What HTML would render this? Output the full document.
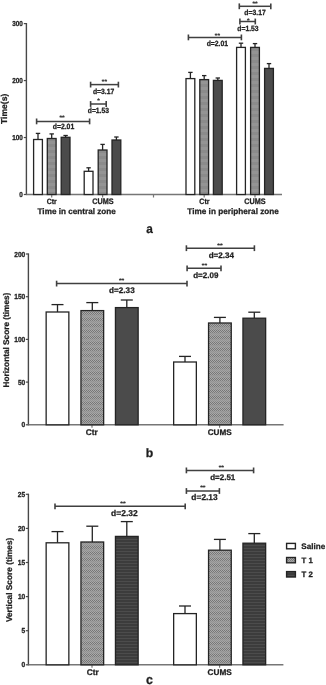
<!DOCTYPE html>
<html><head><meta charset="utf-8"><title>Figure</title>
<style>
html,body{margin:0;padding:0;background:#fff;}
body{width:326px;height:685px;overflow:hidden;}
svg{display:block;}
text{font-family:'Liberation Sans', Arial, sans-serif;text-rendering:geometricPrecision;stroke:#1e1e1e;stroke-width:2.6px;}
</style></head><body>
<svg width="326" height="685" viewBox="0 0 326 685">
<defs>
<pattern id="ga" width="4" height="6" patternUnits="userSpaceOnUse">
<rect width="4" height="6" fill="#8b8b8b"/><rect y="3" width="4" height="3" fill="#949494"/></pattern>
<pattern id="tex" width="2" height="6" patternUnits="userSpaceOnUse">
<rect x="0" y="0" width="1" height="1" fill="#767676"/><rect x="1" y="0" width="1" height="1" fill="#aaaaaa"/>
<rect x="0" y="1" width="1" height="1" fill="#aaaaaa"/><rect x="1" y="1" width="1" height="1" fill="#767676"/>
<rect x="0" y="2" width="1" height="1" fill="#7c7c7c"/><rect x="1" y="2" width="1" height="1" fill="#a6a6a6"/>
<rect x="0" y="3" width="1" height="1" fill="#a2a2a2"/><rect x="1" y="3" width="1" height="1" fill="#909090"/>
<rect x="0" y="4" width="1" height="1" fill="#949494"/><rect x="1" y="4" width="1" height="1" fill="#a4a4a4"/>
<rect x="0" y="5" width="1" height="1" fill="#a8a8a8"/><rect x="1" y="5" width="1" height="1" fill="#888888"/>
</pattern>
<pattern id="dk" width="4" height="3" patternUnits="userSpaceOnUse">
<rect width="4" height="3" fill="#3c3c3c"/><rect y="2" width="4" height="1" fill="#4c4c4c"/></pattern>
</defs>
<rect width="326" height="685" fill="#fff"/>
<line x1="26.40" y1="22.99" x2="26.40" y2="195.10" stroke="#484848" stroke-width="1.4"/>
<line x1="23.80" y1="194.50" x2="26.40" y2="194.50" stroke="#484848" stroke-width="1.2"/>
<line x1="23.80" y1="137.53" x2="26.40" y2="137.53" stroke="#484848" stroke-width="1.2"/>
<line x1="23.80" y1="80.56" x2="26.40" y2="80.56" stroke="#484848" stroke-width="1.2"/>
<line x1="23.80" y1="23.59" x2="26.40" y2="23.59" stroke="#484848" stroke-width="1.2"/>
<line x1="26.40" y1="194.50" x2="282.00" y2="194.50" stroke="#767676" stroke-width="1.4"/>
<line x1="51.70" y1="194.50" x2="51.70" y2="197.50" stroke="#767676" stroke-width="1.2"/>
<line x1="102.60" y1="194.50" x2="102.60" y2="197.50" stroke="#767676" stroke-width="1.2"/>
<line x1="153.50" y1="194.50" x2="153.50" y2="197.50" stroke="#767676" stroke-width="1.2"/>
<line x1="204.20" y1="194.50" x2="204.20" y2="197.50" stroke="#767676" stroke-width="1.2"/>
<line x1="255.00" y1="194.50" x2="255.00" y2="197.50" stroke="#767676" stroke-width="1.2"/>
<line x1="38.00" y1="139.50" x2="38.00" y2="133.40" stroke="#242424" stroke-width="1.3"/>
<line x1="35.80" y1="133.40" x2="40.20" y2="133.40" stroke="#242424" stroke-width="1.3"/>
<rect x="33.60" y="139.50" width="8.80" height="55.00" fill="#ffffff" stroke="#242424" stroke-width="1.3"/>
<line x1="51.70" y1="138.50" x2="51.70" y2="133.90" stroke="#242424" stroke-width="1.3"/>
<line x1="49.50" y1="133.90" x2="53.90" y2="133.90" stroke="#242424" stroke-width="1.3"/>
<rect x="47.30" y="138.50" width="8.80" height="56.00" fill="url(#ga)" stroke="#242424" stroke-width="1.3"/>
<line x1="65.60" y1="137.30" x2="65.60" y2="135.50" stroke="#242424" stroke-width="1.3"/>
<line x1="63.40" y1="135.50" x2="67.80" y2="135.50" stroke="#242424" stroke-width="1.3"/>
<rect x="61.20" y="137.30" width="8.80" height="57.20" fill="#4b4b4b" stroke="#242424" stroke-width="1.3"/>
<line x1="88.60" y1="171.30" x2="88.60" y2="167.80" stroke="#242424" stroke-width="1.3"/>
<line x1="86.40" y1="167.80" x2="90.80" y2="167.80" stroke="#242424" stroke-width="1.3"/>
<rect x="84.20" y="171.30" width="8.80" height="23.20" fill="#ffffff" stroke="#242424" stroke-width="1.3"/>
<line x1="102.60" y1="150.00" x2="102.60" y2="144.40" stroke="#242424" stroke-width="1.3"/>
<line x1="100.40" y1="144.40" x2="104.80" y2="144.40" stroke="#242424" stroke-width="1.3"/>
<rect x="98.20" y="150.00" width="8.80" height="44.50" fill="url(#ga)" stroke="#242424" stroke-width="1.3"/>
<line x1="116.40" y1="140.00" x2="116.40" y2="137.00" stroke="#242424" stroke-width="1.3"/>
<line x1="114.20" y1="137.00" x2="118.60" y2="137.00" stroke="#242424" stroke-width="1.3"/>
<rect x="112.00" y="140.00" width="8.80" height="54.50" fill="#4b4b4b" stroke="#242424" stroke-width="1.3"/>
<line x1="190.40" y1="78.60" x2="190.40" y2="72.40" stroke="#242424" stroke-width="1.3"/>
<line x1="188.20" y1="72.40" x2="192.60" y2="72.40" stroke="#242424" stroke-width="1.3"/>
<rect x="186.00" y="78.60" width="8.80" height="115.90" fill="#ffffff" stroke="#242424" stroke-width="1.3"/>
<line x1="204.20" y1="79.60" x2="204.20" y2="75.60" stroke="#242424" stroke-width="1.3"/>
<line x1="202.00" y1="75.60" x2="206.40" y2="75.60" stroke="#242424" stroke-width="1.3"/>
<rect x="199.80" y="79.60" width="8.80" height="114.90" fill="url(#ga)" stroke="#242424" stroke-width="1.3"/>
<line x1="217.80" y1="80.40" x2="217.80" y2="78.00" stroke="#242424" stroke-width="1.3"/>
<line x1="215.60" y1="78.00" x2="220.00" y2="78.00" stroke="#242424" stroke-width="1.3"/>
<rect x="213.40" y="80.40" width="8.80" height="114.10" fill="#4b4b4b" stroke="#242424" stroke-width="1.3"/>
<line x1="241.00" y1="47.40" x2="241.00" y2="43.20" stroke="#242424" stroke-width="1.3"/>
<line x1="238.80" y1="43.20" x2="243.20" y2="43.20" stroke="#242424" stroke-width="1.3"/>
<rect x="236.60" y="47.40" width="8.80" height="147.10" fill="#ffffff" stroke="#242424" stroke-width="1.3"/>
<line x1="255.00" y1="47.40" x2="255.00" y2="43.60" stroke="#242424" stroke-width="1.3"/>
<line x1="252.80" y1="43.60" x2="257.20" y2="43.60" stroke="#242424" stroke-width="1.3"/>
<rect x="250.60" y="47.40" width="8.80" height="147.10" fill="url(#ga)" stroke="#242424" stroke-width="1.3"/>
<line x1="269.00" y1="68.40" x2="269.00" y2="63.60" stroke="#242424" stroke-width="1.3"/>
<line x1="266.80" y1="63.60" x2="271.20" y2="63.60" stroke="#242424" stroke-width="1.3"/>
<rect x="264.60" y="68.40" width="8.80" height="126.10" fill="#4b4b4b" stroke="#242424" stroke-width="1.3"/>
<line x1="36.60" y1="121.40" x2="89.60" y2="121.40" stroke="#404040" stroke-width="1.5"/>
<line x1="36.60" y1="118.50" x2="36.60" y2="124.30" stroke="#404040" stroke-width="1.6"/>
<line x1="89.60" y1="118.50" x2="89.60" y2="124.30" stroke="#404040" stroke-width="1.6"/>
<line x1="90.60" y1="84.60" x2="118.40" y2="84.60" stroke="#404040" stroke-width="1.5"/>
<line x1="90.60" y1="81.70" x2="90.60" y2="87.50" stroke="#404040" stroke-width="1.6"/>
<line x1="118.40" y1="81.70" x2="118.40" y2="87.50" stroke="#404040" stroke-width="1.6"/>
<line x1="90.60" y1="104.00" x2="106.20" y2="104.00" stroke="#404040" stroke-width="1.5"/>
<line x1="90.60" y1="101.10" x2="90.60" y2="106.90" stroke="#404040" stroke-width="1.6"/>
<line x1="106.20" y1="101.10" x2="106.20" y2="106.90" stroke="#404040" stroke-width="1.6"/>
<line x1="188.40" y1="37.40" x2="241.40" y2="37.40" stroke="#404040" stroke-width="1.5"/>
<line x1="188.40" y1="34.50" x2="188.40" y2="40.30" stroke="#404040" stroke-width="1.6"/>
<line x1="241.40" y1="34.50" x2="241.40" y2="40.30" stroke="#404040" stroke-width="1.6"/>
<line x1="239.30" y1="6.30" x2="270.80" y2="6.30" stroke="#404040" stroke-width="1.5"/>
<line x1="239.30" y1="3.40" x2="239.30" y2="9.20" stroke="#404040" stroke-width="1.6"/>
<line x1="270.80" y1="3.40" x2="270.80" y2="9.20" stroke="#404040" stroke-width="1.6"/>
<line x1="239.90" y1="21.50" x2="255.30" y2="21.50" stroke="#404040" stroke-width="1.5"/>
<line x1="239.90" y1="18.60" x2="239.90" y2="24.40" stroke="#404040" stroke-width="1.6"/>
<line x1="255.30" y1="18.60" x2="255.30" y2="24.40" stroke="#404040" stroke-width="1.6"/>
<line x1="28.40" y1="253.40" x2="28.40" y2="425.40" stroke="#484848" stroke-width="1.4"/>
<line x1="25.80" y1="424.80" x2="28.40" y2="424.80" stroke="#484848" stroke-width="1.2"/>
<line x1="25.80" y1="382.10" x2="28.40" y2="382.10" stroke="#484848" stroke-width="1.2"/>
<line x1="25.80" y1="339.40" x2="28.40" y2="339.40" stroke="#484848" stroke-width="1.2"/>
<line x1="25.80" y1="296.70" x2="28.40" y2="296.70" stroke="#484848" stroke-width="1.2"/>
<line x1="25.80" y1="254.00" x2="28.40" y2="254.00" stroke="#484848" stroke-width="1.2"/>
<line x1="28.40" y1="424.80" x2="283.60" y2="424.80" stroke="#767676" stroke-width="1.4"/>
<line x1="92.00" y1="424.80" x2="92.00" y2="427.80" stroke="#767676" stroke-width="1.2"/>
<line x1="219.60" y1="424.80" x2="219.60" y2="427.80" stroke="#767676" stroke-width="1.2"/>
<line x1="57.50" y1="312.00" x2="57.50" y2="304.60" stroke="#242424" stroke-width="1.3"/>
<line x1="51.50" y1="304.60" x2="63.50" y2="304.60" stroke="#242424" stroke-width="1.3"/>
<rect x="46.15" y="312.00" width="22.70" height="112.80" fill="#ffffff" stroke="#242424" stroke-width="1.3"/>
<line x1="92.30" y1="310.60" x2="92.30" y2="302.60" stroke="#242424" stroke-width="1.3"/>
<line x1="86.30" y1="302.60" x2="98.30" y2="302.60" stroke="#242424" stroke-width="1.3"/>
<rect x="80.95" y="310.60" width="22.70" height="114.20" fill="url(#tex)" stroke="#242424" stroke-width="1.3"/>
<line x1="126.80" y1="307.60" x2="126.80" y2="300.00" stroke="#242424" stroke-width="1.3"/>
<line x1="120.80" y1="300.00" x2="132.80" y2="300.00" stroke="#242424" stroke-width="1.3"/>
<rect x="115.45" y="307.60" width="22.70" height="117.20" fill="#4b4b4b" stroke="#242424" stroke-width="1.3"/>
<line x1="185.00" y1="362.00" x2="185.00" y2="356.40" stroke="#242424" stroke-width="1.3"/>
<line x1="179.00" y1="356.40" x2="191.00" y2="356.40" stroke="#242424" stroke-width="1.3"/>
<rect x="173.65" y="362.00" width="22.70" height="62.80" fill="#ffffff" stroke="#242424" stroke-width="1.3"/>
<line x1="219.90" y1="323.00" x2="219.90" y2="317.40" stroke="#242424" stroke-width="1.3"/>
<line x1="213.90" y1="317.40" x2="225.90" y2="317.40" stroke="#242424" stroke-width="1.3"/>
<rect x="208.55" y="323.00" width="22.70" height="101.80" fill="url(#tex)" stroke="#242424" stroke-width="1.3"/>
<line x1="254.30" y1="318.20" x2="254.30" y2="312.20" stroke="#242424" stroke-width="1.3"/>
<line x1="248.30" y1="312.20" x2="260.30" y2="312.20" stroke="#242424" stroke-width="1.3"/>
<rect x="242.95" y="318.20" width="22.70" height="106.60" fill="#4b4b4b" stroke="#242424" stroke-width="1.3"/>
<line x1="56.60" y1="283.60" x2="187.00" y2="283.60" stroke="#404040" stroke-width="1.5"/>
<line x1="56.60" y1="280.70" x2="56.60" y2="286.50" stroke="#404040" stroke-width="1.6"/>
<line x1="187.00" y1="280.70" x2="187.00" y2="286.50" stroke="#404040" stroke-width="1.6"/>
<line x1="186.40" y1="248.20" x2="254.40" y2="248.20" stroke="#404040" stroke-width="1.5"/>
<line x1="186.40" y1="245.30" x2="186.40" y2="251.10" stroke="#404040" stroke-width="1.6"/>
<line x1="254.40" y1="245.30" x2="254.40" y2="251.10" stroke="#404040" stroke-width="1.6"/>
<line x1="187.10" y1="268.30" x2="221.00" y2="268.30" stroke="#404040" stroke-width="1.5"/>
<line x1="187.10" y1="265.40" x2="187.10" y2="271.20" stroke="#404040" stroke-width="1.6"/>
<line x1="221.00" y1="265.40" x2="221.00" y2="271.20" stroke="#404040" stroke-width="1.6"/>
<line x1="28.40" y1="493.70" x2="28.40" y2="665.40" stroke="#484848" stroke-width="1.4"/>
<line x1="25.80" y1="664.80" x2="28.40" y2="664.80" stroke="#484848" stroke-width="1.2"/>
<line x1="25.80" y1="630.70" x2="28.40" y2="630.70" stroke="#484848" stroke-width="1.2"/>
<line x1="25.80" y1="596.60" x2="28.40" y2="596.60" stroke="#484848" stroke-width="1.2"/>
<line x1="25.80" y1="562.50" x2="28.40" y2="562.50" stroke="#484848" stroke-width="1.2"/>
<line x1="25.80" y1="528.40" x2="28.40" y2="528.40" stroke="#484848" stroke-width="1.2"/>
<line x1="25.80" y1="494.30" x2="28.40" y2="494.30" stroke="#484848" stroke-width="1.2"/>
<line x1="28.40" y1="664.80" x2="283.40" y2="664.80" stroke="#767676" stroke-width="1.4"/>
<line x1="92.00" y1="664.80" x2="92.00" y2="667.80" stroke="#767676" stroke-width="1.2"/>
<line x1="219.60" y1="664.80" x2="219.60" y2="667.80" stroke="#767676" stroke-width="1.2"/>
<line x1="57.50" y1="542.80" x2="57.50" y2="531.60" stroke="#242424" stroke-width="1.3"/>
<line x1="51.50" y1="531.60" x2="63.50" y2="531.60" stroke="#242424" stroke-width="1.3"/>
<rect x="46.15" y="542.80" width="22.70" height="122.00" fill="#ffffff" stroke="#242424" stroke-width="1.3"/>
<line x1="92.30" y1="542.00" x2="92.30" y2="526.20" stroke="#242424" stroke-width="1.3"/>
<line x1="86.30" y1="526.20" x2="98.30" y2="526.20" stroke="#242424" stroke-width="1.3"/>
<rect x="80.95" y="542.00" width="22.70" height="122.80" fill="url(#tex)" stroke="#242424" stroke-width="1.3"/>
<line x1="126.80" y1="536.40" x2="126.80" y2="521.60" stroke="#242424" stroke-width="1.3"/>
<line x1="120.80" y1="521.60" x2="132.80" y2="521.60" stroke="#242424" stroke-width="1.3"/>
<rect x="115.45" y="536.40" width="22.70" height="128.40" fill="url(#dk)" stroke="#242424" stroke-width="1.3"/>
<line x1="185.00" y1="613.60" x2="185.00" y2="606.00" stroke="#242424" stroke-width="1.3"/>
<line x1="179.00" y1="606.00" x2="191.00" y2="606.00" stroke="#242424" stroke-width="1.3"/>
<rect x="173.65" y="613.60" width="22.70" height="51.20" fill="#ffffff" stroke="#242424" stroke-width="1.3"/>
<line x1="219.90" y1="550.20" x2="219.90" y2="539.40" stroke="#242424" stroke-width="1.3"/>
<line x1="213.90" y1="539.40" x2="225.90" y2="539.40" stroke="#242424" stroke-width="1.3"/>
<rect x="208.55" y="550.20" width="22.70" height="114.60" fill="url(#tex)" stroke="#242424" stroke-width="1.3"/>
<line x1="254.30" y1="543.20" x2="254.30" y2="533.60" stroke="#242424" stroke-width="1.3"/>
<line x1="248.30" y1="533.60" x2="260.30" y2="533.60" stroke="#242424" stroke-width="1.3"/>
<rect x="242.95" y="543.20" width="22.70" height="121.60" fill="url(#dk)" stroke="#242424" stroke-width="1.3"/>
<line x1="55.00" y1="506.30" x2="185.20" y2="506.30" stroke="#404040" stroke-width="1.5"/>
<line x1="55.00" y1="503.40" x2="55.00" y2="509.20" stroke="#404040" stroke-width="1.6"/>
<line x1="185.20" y1="503.40" x2="185.20" y2="509.20" stroke="#404040" stroke-width="1.6"/>
<line x1="186.40" y1="470.40" x2="253.60" y2="470.40" stroke="#404040" stroke-width="1.5"/>
<line x1="186.40" y1="467.50" x2="186.40" y2="473.30" stroke="#404040" stroke-width="1.6"/>
<line x1="253.60" y1="467.50" x2="253.60" y2="473.30" stroke="#404040" stroke-width="1.6"/>
<line x1="186.40" y1="491.00" x2="219.40" y2="491.00" stroke="#404040" stroke-width="1.5"/>
<line x1="186.40" y1="488.10" x2="186.40" y2="493.90" stroke="#404040" stroke-width="1.6"/>
<line x1="219.40" y1="488.10" x2="219.40" y2="493.90" stroke="#404040" stroke-width="1.6"/>
<rect x="286.60" y="543.40" width="8.80" height="5.40" fill="#ffffff" stroke="#242424" stroke-width="1.4"/>
<rect x="286.60" y="557.50" width="8.80" height="5.30" fill="url(#tex)" stroke="#242424" stroke-width="1.4"/>
<rect x="286.60" y="571.60" width="8.80" height="5.40" fill="url(#dk)" stroke="#242424" stroke-width="1.4"/>
<text transform="translate(12.20,26.06) scale(0.1000,0.1120)" font-size="64.00" fill="#1e1e1e" font-weight="bold">300</text>
<text transform="translate(12.20,83.03) scale(0.1000,0.1120)" font-size="64.00" fill="#1e1e1e" font-weight="bold">200</text>
<text transform="translate(12.20,140.00) scale(0.1000,0.1120)" font-size="64.00" fill="#1e1e1e" font-weight="bold">100</text>
<text transform="translate(19.30,196.97) scale(0.1000,0.1120)" font-size="64.00" fill="#1e1e1e" font-weight="bold">0</text>
<text transform="translate(6.82,124.09) rotate(-90) scale(0.1000,0.1000)" font-size="86.21" fill="#1e1e1e" font-weight="bold">Time(s)</text>
<text transform="translate(46.72,204.22) scale(0.1000,0.1100)" font-size="69.06" fill="#1e1e1e" font-weight="bold">Ctr</text>
<text transform="translate(92.31,204.16) scale(0.1000,0.1100)" font-size="72.60" fill="#1e1e1e" font-weight="bold">CUMS</text>
<text transform="translate(199.32,204.28) scale(0.1000,0.1100)" font-size="70.50" fill="#1e1e1e" font-weight="bold">Ctr</text>
<text transform="translate(244.31,204.16) scale(0.1000,0.1100)" font-size="72.60" fill="#1e1e1e" font-weight="bold">CUMS</text>
<text transform="translate(37.52,213.92) scale(0.1000,0.1000)" font-size="81.68" fill="#1e1e1e" font-weight="bold">Time in central zone</text>
<text transform="translate(187.32,213.51) scale(0.1000,0.1000)" font-size="82.13" fill="#1e1e1e" font-weight="bold">Time in peripheral zone</text>
<text transform="translate(146.24,232.81) scale(0.1000,0.1050)" font-size="118.87" fill="#1e1e1e" font-weight="bold">a</text>
<text transform="translate(59.43,119.10) scale(0.1000,0.0750)" font-size="66.00" fill="#333" font-weight="bold">**</text>
<text transform="translate(52.73,128.89) scale(0.1000,0.1100)" font-size="68.29" fill="#1e1e1e" font-weight="bold">d=2.01</text>
<text transform="translate(101.83,82.70) scale(0.1000,0.0750)" font-size="66.00" fill="#333" font-weight="bold">**</text>
<text transform="translate(92.93,93.68) scale(0.1000,0.1100)" font-size="68.09" fill="#1e1e1e" font-weight="bold">d=3.17</text>
<text transform="translate(97.31,102.10) scale(0.1000,0.0750)" font-size="66.00" fill="#333" font-weight="bold">*</text>
<text transform="translate(87.73,112.67) scale(0.1000,0.1100)" font-size="67.86" fill="#1e1e1e" font-weight="bold">d=1.53</text>
<text transform="translate(214.83,37.10) scale(0.1000,0.0750)" font-size="66.00" fill="#333" font-weight="bold">**</text>
<text transform="translate(206.63,45.69) scale(0.1000,0.1100)" font-size="68.29" fill="#1e1e1e" font-weight="bold">d=2.01</text>
<text transform="translate(252.43,5.10) scale(0.1000,0.0750)" font-size="66.00" fill="#333" font-weight="bold">**</text>
<text transform="translate(244.33,15.08) scale(0.1000,0.1100)" font-size="68.09" fill="#1e1e1e" font-weight="bold">d=3.17</text>
<text transform="translate(247.11,21.70) scale(0.1000,0.0750)" font-size="66.00" fill="#333" font-weight="bold">*</text>
<text transform="translate(237.33,31.27) scale(0.1000,0.1100)" font-size="67.86" fill="#1e1e1e" font-weight="bold">d=1.53</text>
<text transform="translate(14.28,256.50) scale(0.1000,0.1100)" font-size="66.00" fill="#1e1e1e" font-weight="bold">200</text>
<text transform="translate(14.28,299.20) scale(0.1000,0.1100)" font-size="66.00" fill="#1e1e1e" font-weight="bold">150</text>
<text transform="translate(14.28,341.90) scale(0.1000,0.1100)" font-size="66.00" fill="#1e1e1e" font-weight="bold">100</text>
<text transform="translate(17.94,384.60) scale(0.1000,0.1100)" font-size="66.00" fill="#1e1e1e" font-weight="bold">50</text>
<text transform="translate(21.60,427.30) scale(0.1000,0.1100)" font-size="66.00" fill="#1e1e1e" font-weight="bold">0</text>
<text transform="translate(8.73,387.54) rotate(-90) scale(0.1000,0.1000)" font-size="82.53" fill="#1e1e1e" font-weight="bold">Horizontal Score (times)</text>
<text transform="translate(85.67,434.88) scale(0.1000,0.1000)" font-size="83.45" fill="#1e1e1e" font-weight="bold">Ctr</text>
<text transform="translate(207.67,434.93) scale(0.1000,0.1000)" font-size="82.02" fill="#1e1e1e" font-weight="bold">CUMS</text>
<text transform="translate(145.70,456.99) scale(0.1000,0.1000)" font-size="122.77" fill="#1e1e1e" font-weight="bold">b</text>
<text transform="translate(118.95,281.78) scale(0.1000,0.0750)" font-size="68.00" fill="#333" font-weight="bold">**</text>
<text transform="translate(109.07,292.92) scale(0.1000,0.1000)" font-size="81.57" fill="#1e1e1e" font-weight="bold">d=2.33</text>
<text transform="translate(217.35,247.18) scale(0.1000,0.0750)" font-size="68.00" fill="#333" font-weight="bold">**</text>
<text transform="translate(208.68,257.89) scale(0.1000,0.1000)" font-size="80.78" fill="#1e1e1e" font-weight="bold">d=2.34</text>
<text transform="translate(201.75,266.78) scale(0.1000,0.0750)" font-size="68.00" fill="#333" font-weight="bold">**</text>
<text transform="translate(193.18,277.67) scale(0.1000,0.1000)" font-size="80.26" fill="#1e1e1e" font-weight="bold">d=2.09</text>
<text transform="translate(17.84,496.80) scale(0.1000,0.1100)" font-size="66.00" fill="#1e1e1e" font-weight="bold">25</text>
<text transform="translate(17.94,530.90) scale(0.1000,0.1100)" font-size="66.00" fill="#1e1e1e" font-weight="bold">20</text>
<text transform="translate(17.84,564.97) scale(0.1000,0.1100)" font-size="66.00" fill="#1e1e1e" font-weight="bold">15</text>
<text transform="translate(17.94,599.10) scale(0.1000,0.1100)" font-size="66.00" fill="#1e1e1e" font-weight="bold">10</text>
<text transform="translate(21.50,633.17) scale(0.1000,0.1100)" font-size="66.00" fill="#1e1e1e" font-weight="bold">5</text>
<text transform="translate(21.60,667.30) scale(0.1000,0.1100)" font-size="66.00" fill="#1e1e1e" font-weight="bold">0</text>
<text transform="translate(12.44,622.08) rotate(-90) scale(0.1000,0.1000)" font-size="83.04" fill="#1e1e1e" font-weight="bold">Vertical Score (times)</text>
<text transform="translate(86.67,675.48) scale(0.1000,0.1000)" font-size="83.45" fill="#1e1e1e" font-weight="bold">Ctr</text>
<text transform="translate(207.47,675.15) scale(0.1000,0.1000)" font-size="82.72" fill="#1e1e1e" font-weight="bold">CUMS</text>
<text transform="translate(146.01,683.84) scale(0.1000,0.1050)" font-size="123.71" fill="#1e1e1e" font-weight="bold">c</text>
<text transform="translate(120.35,505.18) scale(0.1000,0.0750)" font-size="68.00" fill="#333" font-weight="bold">**</text>
<text transform="translate(111.06,516.04) scale(0.1000,0.1000)" font-size="84.97" fill="#1e1e1e" font-weight="bold">d=2.32</text>
<text transform="translate(218.65,468.88) scale(0.1000,0.0750)" font-size="68.00" fill="#333" font-weight="bold">**</text>
<text transform="translate(210.18,479.66) scale(0.1000,0.1000)" font-size="80.00" fill="#1e1e1e" font-weight="bold">d=2.51</text>
<text transform="translate(200.15,489.38) scale(0.1000,0.0750)" font-size="68.00" fill="#333" font-weight="bold">**</text>
<text transform="translate(191.36,500.40) scale(0.1000,0.1000)" font-size="83.85" fill="#1e1e1e" font-weight="bold">d=2.13</text>
<text transform="translate(301.36,548.90) scale(0.1000,0.1000)" font-size="81.25" fill="#1e1e1e" font-weight="bold">Saline</text>
<text transform="translate(301.52,562.69) scale(0.1000,0.1000)" font-size="78.01" fill="#1e1e1e" font-weight="bold">T 1</text>
<text transform="translate(301.52,576.76) scale(0.1000,0.1000)" font-size="78.85" fill="#1e1e1e" font-weight="bold">T 2</text>
</svg>
</body></html>
